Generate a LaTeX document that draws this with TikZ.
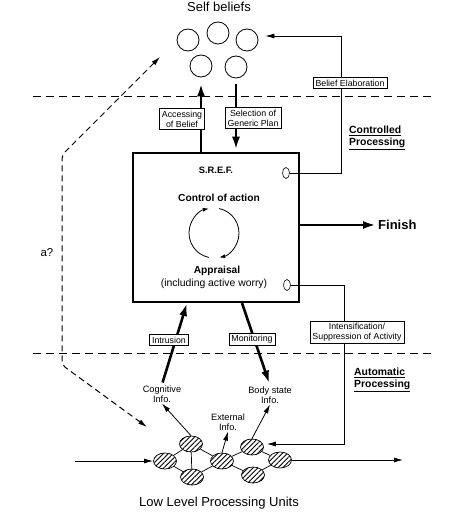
\documentclass[tikz,border=0pt]{standalone}
\usepackage{fontspec}
\setmainfont{Liberation Sans}
\usetikzlibrary{shapes.geometric,arrows.meta,patterns.meta}

\begin{document}
\begin{tikzpicture}[x=1pt,y=-1pt,
	>={Latex[length=9pt,width=5pt]},
	belief/.style={circle,draw,line width=0.8pt,minimum size=22pt,inner sep=0pt},
	unit/.style={ellipse,draw,line width=0.7pt,minimum width=23pt,minimum height=16pt,inner sep=0pt,pattern={Lines[angle=45,distance=3.5pt,line width=0.9pt]}},
	port/.style={ellipse,draw,line width=0.6pt,fill=white,minimum width=7pt,minimum height=11pt,inner sep=0pt},
	lab/.style={draw,fill=white,line width=0.6pt,inner xsep=2.5pt,inner ysep=2pt,align=center,font=\fontsize{8.8}{10}\selectfont},
	info/.style={align=center,inner sep=1pt,font=\fontsize{9.2}{10}\selectfont},
	big/.style={line width=2.6pt,-{Latex[length=13pt,width=8pt]}},
	link/.style={line width=0.8pt,->},
	divider/.style={line width=0.8pt,dash pattern=on 8pt off 5pt},
	heading/.style={anchor=west,align=left,inner sep=0pt,font=\bfseries\fontsize{10.4}{12}\selectfont}]
	\useasboundingbox (0,0) rectangle (474,513);
	% self beliefs
	\node[font=\fontsize{13}{15}\selectfont] (self) at (219,7) {Self beliefs};
	\node[belief] (b1) at (188,40) {};
	\node[belief] (b2) at (218,33) {};
	\node[belief] (b3) at (247,40) {};
	\node[belief] (b4) at (201,66) {};
	\node[belief] (b5) at (236,67) {};
	% levels
	\draw[divider] (33,96) -- (432,96);
	\draw[divider] (33,353) -- (432,353);
	\node[heading] (ctrl) at (349,138) {\underline{Controlled}\\\underline{Processing}};
	\node[heading] (auto) at (354,380) {\underline{Automatic}\\\underline{Processing}};
	% S.R.E.F. box
	\node[draw,line width=2.6pt,minimum width=166pt,minimum height=149pt] (sref) at (216,227.5) {};
	\node[font=\bfseries\fontsize{9.3}{11}\selectfont] (sreft) at (216,170) {S.R.E.F.};
	\node[font=\bfseries\fontsize{10.2}{12}\selectfont] (ctl) at (219,198) {Control of action};
	\node[font=\bfseries\fontsize{10.2}{12}\selectfont] (appr) at (217,271) {Appraisal};
	\node[font=\fontsize{10.4}{12}\selectfont] (worry) at (214,284) {(including active worry)};
	\coordinate (loop) at (214,233);
	\draw[line width=0.8pt,-{Latex[length=6pt,width=4pt]}] (loop) ++(102:25) arc[start angle=102,end angle=258,radius=25];
	\draw[line width=0.8pt,-{Latex[length=6pt,width=4pt]}] (loop) ++(-78:25) arc[start angle=-78,end angle=78,radius=25];
	\node[port] (p1) at (286,173) {};
	\node[port] (p2) at (287,285) {};
	% to and from beliefs
	\draw[big,shorten >=6pt] (b4 |- sref.north) -- (b4.south);
	\draw[big,shorten <=6pt,shorten >=2pt] (b5.south) -- (b5 |- sref.north);
	\coordinate (be) at (341,36);
	\draw[link,shorten >=7pt] (p1.east) -| (be) -- (be -| b3.east);
	\node[lab] (acc) at (182,119) {Accessing\\of Belief};
	\node[lab] (sel) at (253,118) {Selection of\\Generic Plan};
	\node[lab] (bel) at (350,83) {Belief Elaboration};
	% finish
	\node[anchor=west,inner sep=2pt,font=\bfseries\fontsize{13}{15}\selectfont] (finish) at (376,225) {Finish};
	\draw[big] (sref.east |- finish) -- (finish.west);
	% low level units
	\node[unit] (e1) at (165,461) {};
	\node[unit] (e2) at (191,444) {};
	\node[unit] (e3) at (192,477) {};
	\node[unit] (e4) at (222,461) {};
	\node[unit] (e5) at (252,447) {};
	\node[unit] (e6) at (280,460) {};
	\node[unit] (e7) at (253,475) {};
	\foreach \a/\b in {e1/e2,e1/e3,e2/e3,e2/e4,e3/e4,e4/e5,e4/e7,e5/e6,e7/e6}
		\draw[line width=0.7pt] (\a) -- (\b);
	\coordinate (inp) at (75,461);
	\coordinate (outp) at (403,460);
	\draw[link] (inp) -- (e1);
	\draw[link] (e6) -- (outp);
	\node[font=\fontsize{13}{15}\selectfont] (units) at (219,503) {Low Level Processing Units};
	% info
	\node[info] (cog) at (162,394) {Cognitive\\Info.};
	\node[info] (body) at (270,395) {Body state\\Info.};
	\node[info] (ext) at (228,422) {External\\Info.};
	\draw[link] (e2.north) -- (cog.south);
	\draw[link] (e4.north) -- (ext.south);
	\draw[link] (e5.north) -- (body.south);
	\coordinate (in) at (187,303);
	\coordinate (mo) at (242,303);
	\draw[big,shorten <=2pt] (cog.north) -- (in);
	\draw[big,shorten >=2pt] (mo) -- (body.north);
	\node[lab] (intr) at (169,340) {Intrusion};
	\node[lab] (mon) at (252,339) {Monitoring};
	% intensification
	\coordinate (iu) at (344,444);
	\draw[link,shorten >=3pt] (p2.east) -| (iu) -- (iu -| e5.east);
	\node[lab] (ints) at (357,332) {Intensification/\\Suppression of Activity};
	% a?
	\coordinate (qa) at (160,57);
	\coordinate (qb) at (147,427);
	\draw[line width=1pt,dash pattern=on 6pt off 4pt,<->,rounded corners=4pt] (qa) -- (62,155) -- (62,365) -- (qb);
	\node[font=\fontsize{11.4}{13}\selectfont] (aq) at (47,253) {a?};
\end{tikzpicture}
\end{document}
